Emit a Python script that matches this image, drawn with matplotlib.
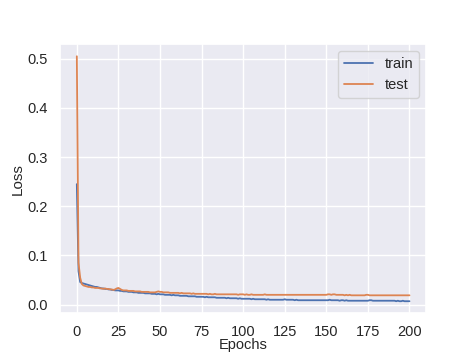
import matplotlib
matplotlib.use("Agg")
import matplotlib.pyplot as plt
from matplotlib.ticker import MultipleLocator
import seaborn as sns

# loss per epoch
train_loss = [
    0.245, 0.068, 0.046, 0.044, 0.043, 0.042, 0.041, 0.040, 0.039, 0.038,
    0.037, 0.036, 0.036, 0.035, 0.034, 0.033, 0.033, 0.032, 0.032, 0.031,
    0.031, 0.030, 0.030, 0.029, 0.029, 0.029, 0.028, 0.028, 0.027, 0.027,
    0.027, 0.026, 0.026, 0.026, 0.025, 0.025, 0.025, 0.024, 0.024, 0.024,
    0.024, 0.023, 0.023, 0.023, 0.023, 0.022, 0.022, 0.022, 0.021, 0.022,
    0.021, 0.021, 0.021, 0.020, 0.020, 0.020, 0.020, 0.019, 0.020, 0.019,
    0.019, 0.019, 0.018, 0.018, 0.018, 0.018, 0.018, 0.017, 0.017, 0.017,
    0.017, 0.017, 0.016, 0.016, 0.016, 0.016, 0.016, 0.015, 0.016, 0.015,
    0.015, 0.015, 0.015, 0.015, 0.014, 0.014, 0.014, 0.014, 0.014, 0.014,
    0.013, 0.014, 0.013, 0.013, 0.013, 0.013, 0.013, 0.012, 0.013, 0.012,
    0.012, 0.012, 0.012, 0.012, 0.012, 0.011, 0.012, 0.011, 0.011, 0.011,
    0.011, 0.011, 0.011, 0.011, 0.010, 0.011, 0.010, 0.010, 0.010, 0.010,
    0.010, 0.010, 0.010, 0.010, 0.010, 0.011, 0.010, 0.010, 0.010, 0.010,
    0.010, 0.009, 0.010, 0.009, 0.009, 0.009, 0.009, 0.009, 0.009, 0.009,
    0.009, 0.009, 0.009, 0.009, 0.009, 0.009, 0.009, 0.009, 0.009, 0.009,
    0.009, 0.009, 0.010, 0.009, 0.009, 0.009, 0.009, 0.009, 0.008, 0.009,
    0.009, 0.008, 0.009, 0.008, 0.008, 0.008, 0.008, 0.008, 0.008, 0.008,
    0.008, 0.008, 0.008, 0.008, 0.008, 0.008, 0.009, 0.009, 0.008, 0.008,
    0.008, 0.008, 0.008, 0.008, 0.008, 0.008, 0.008, 0.008, 0.008, 0.008,
    0.008, 0.008, 0.007, 0.008, 0.007, 0.007, 0.008, 0.007, 0.007, 0.007,
    0.007,
]

test_loss = [
    0.505, 0.085, 0.055, 0.042, 0.039, 0.038, 0.037, 0.036, 0.036, 0.035,
    0.035, 0.034, 0.034, 0.034, 0.033, 0.033, 0.032, 0.033, 0.032, 0.032,
    0.031, 0.031, 0.030, 0.031, 0.033, 0.034, 0.032, 0.030, 0.029, 0.029,
    0.029, 0.028, 0.028, 0.028, 0.028, 0.027, 0.027, 0.027, 0.027, 0.026,
    0.026, 0.026, 0.026, 0.026, 0.025, 0.025, 0.025, 0.025, 0.026, 0.027,
    0.026, 0.026, 0.025, 0.025, 0.025, 0.025, 0.024, 0.024, 0.024, 0.024,
    0.024, 0.024, 0.023, 0.024, 0.023, 0.023, 0.023, 0.023, 0.023, 0.022,
    0.023, 0.022, 0.022, 0.022, 0.022, 0.022, 0.022, 0.022, 0.022, 0.021,
    0.022, 0.021, 0.021, 0.022, 0.021, 0.021, 0.021, 0.021, 0.021, 0.021,
    0.021, 0.021, 0.021, 0.021, 0.021, 0.021, 0.021, 0.020, 0.021, 0.021,
    0.021, 0.020, 0.021, 0.020, 0.020, 0.021, 0.020, 0.020, 0.020, 0.020,
    0.020, 0.020, 0.020, 0.021, 0.020, 0.020, 0.020, 0.020, 0.020, 0.020,
    0.020, 0.020, 0.020, 0.020, 0.020, 0.020, 0.020, 0.020, 0.020, 0.020,
    0.020, 0.020, 0.020, 0.020, 0.020, 0.020, 0.020, 0.020, 0.020, 0.020,
    0.020, 0.020, 0.020, 0.020, 0.020, 0.020, 0.020, 0.020, 0.020, 0.020,
    0.020, 0.021, 0.021, 0.020, 0.021, 0.021, 0.020, 0.020, 0.020, 0.020,
    0.020, 0.019, 0.020, 0.019, 0.020, 0.019, 0.019, 0.019, 0.019, 0.019,
    0.019, 0.019, 0.019, 0.019, 0.020, 0.020, 0.019, 0.019, 0.019, 0.019,
    0.019, 0.019, 0.019, 0.019, 0.019, 0.019, 0.019, 0.019, 0.019, 0.019,
    0.019, 0.019, 0.019, 0.019, 0.019, 0.019, 0.019, 0.019, 0.019, 0.019,
    0.019,
]

epochs = list(range(len(train_loss)))

sns.set_theme(style="darkgrid")
plt.rcParams["font.family"] = ["Liberation Sans", "DejaVu Sans"]

fig = plt.figure(figsize=(4.74, 3.55), dpi=100)
ax = fig.add_axes([0.127, 0.117, 0.772, 0.759])

ax.plot(epochs, train_loss, label="train", linewidth=1.3)
ax.plot(epochs, test_loss, label="test", linewidth=1.3)

ax.xaxis.set_major_locator(MultipleLocator(25))
ax.set_xlabel("Epochs", fontsize=10.5)
ax.xaxis.set_label_coords(0.5, -0.09)
ax.set_ylabel("Loss", fontsize=11, labelpad=2)
ax.tick_params(axis="x", labelsize=10.5, pad=2)
ax.tick_params(axis="y", labelsize=10.5, pad=3)
ax.legend(loc="upper right", fontsize=10.5)

fig.savefig("out.png", dpi=100)
